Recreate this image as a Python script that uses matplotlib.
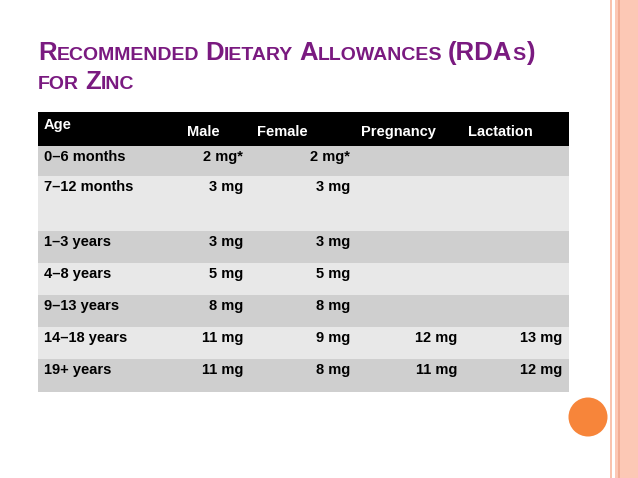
import matplotlib
matplotlib.use("Agg")
import matplotlib.pyplot as plt
from matplotlib.patches import Rectangle, Circle

ages = ["0–6 months", "7–12 months", "1–3 years", "4–8 years", "9–13 years", "14–18 years", "19+ years"]
male = ["2 mg*", "3 mg", "3 mg", "5 mg", "8 mg", "11 mg", "11 mg"]
female = ["2 mg*", "3 mg", "3 mg", "5 mg", "8 mg", "9 mg", "8 mg"]
pregnancy = ["", "", "", "", "", "12 mg", "11 mg"]
lactation = ["", "", "", "", "", "13 mg", "12 mg"]
headers = ["Age", "Male", "Female", "Pregnancy", "Lactation"]

W, H = 638, 478
fig = plt.figure(figsize=(W/100, H/100), dpi=100)
ax = fig.add_axes([0, 0, 1, 1])
ax.set_xlim(0, W); ax.set_ylim(H, 0); ax.axis("off")
FONT = "Liberation Sans"
purple = "#7A1A80"

# right decoration
ax.add_patch(Rectangle((610, 0), 2, H, color="#F9C3AE", lw=0))
ax.add_patch(Rectangle((615, 0), 23, H, color="#FCC8B5", lw=0))
ax.add_patch(Rectangle((618, 0), 2, H, color="#F2AE96", lw=0))
ax.add_patch(Circle((588, 417), 19.5, color="#F7853A", lw=0))

# title with small caps
fig.canvas.draw()
r = fig.canvas.get_renderer()
def smallcaps(x, y, s):
    words = s.split(" ")
    for wi, w in enumerate(words):
        parts = []
        for ch in w:
            big = not ch.islower()
            if parts and parts[-1][1] == big:
                parts[-1][0] += ch
            else:
                parts.append([ch, big])
        for txt, big in parts:
            t = ax.text(x, y, txt if big else txt.upper(), fontsize=18.5 if big else 14,
                        fontweight="bold", family=FONT, color=purple, va="baseline", ha="left")
            bb = t.get_window_extent(r)
            x += bb.width
        if wi < len(words) - 1:
            x += 6
smallcaps(38, 60, "Recommended Dietary Allowances (RDAs)")
smallcaps(38, 89, "for Zinc")

# table
x0, x1 = 38, 569
ax.add_patch(Rectangle((x0, 112), x1 - x0, 34, color="black", lw=0))
tops = [146, 176, 231, 263, 295, 327, 359, 392]
colors = ["#CFCFCF", "#E8E8E8"]
cols = [(44, "left"), (243, "right"), (350, "right"), (457, "right"), (562, "right")]
hx = [44, 187, 257, 361, 468]
for i, h in enumerate(headers):
    ax.text(hx[i], 125 if i == 0 else 132, h, ha="left", va="center",
            color="white", fontsize=10.5, fontweight="bold", family=FONT)
for i in range(len(ages)):
    ax.add_patch(Rectangle((x0, tops[i]), x1 - x0, tops[i+1] - tops[i], color=colors[i % 2], lw=0))
    vals = [ages[i], male[i], female[i], pregnancy[i], lactation[i]]
    for j, v in enumerate(vals):
        ax.text(cols[j][0], tops[i] + 11, v, ha=cols[j][1], va="center",
                color="black", fontsize=10.5, fontweight="bold", family=FONT)

fig.savefig("out.png", dpi=100)
